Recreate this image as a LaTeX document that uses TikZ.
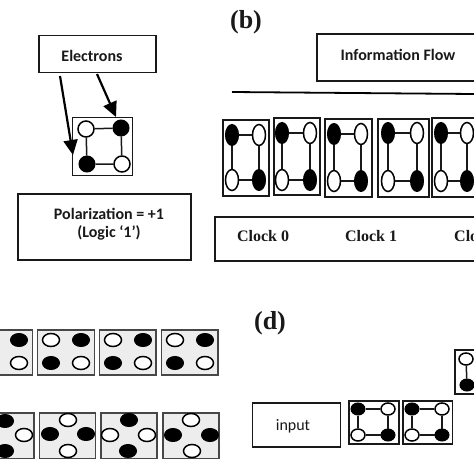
\documentclass[tikz,border=0pt]{standalone}
\usepackage{fontspec}
\setmainfont{Carlito}
\newfontfamily\serifb{Liberation Serif}
\usetikzlibrary{arrows.meta,shapes.geometric}
\definecolor{ink}{gray}{0.1}
\definecolor{cellgray}{gray}{0.93}
\tikzset{
  boxed/.style={draw=ink,line width=1.5pt,fill=white},
  cellbox/.style={draw=ink,line width=1.4pt,fill=white},
  graybox/.style={draw=ink!80,line width=1.4pt,fill=cellgray},
  wire/.style={draw=ink,line width=1.5pt},
  arrowline/.style={draw=black,line width=2.2pt,-{Triangle[length=15pt,width=14pt]}},
  lab/.style={font=\fontsize{16}{18.5}\selectfont\bfseries,text=ink,align=center,inner sep=0pt},
  serlab/.style={font=\serifb\fontsize{16}{18}\selectfont\bfseries,text=ink,inner sep=0pt},
  panel/.style={font=\serifb\fontsize{26}{30}\selectfont\bfseries,text=ink,inner sep=0pt},
  bdot/.style={ellipse,fill=black,draw=black,line width=1pt,inner sep=0pt},
  wdot/.style={ellipse,fill=white,draw=black,line width=1.5pt,inner sep=0pt},
}
\newcommand{\dotat}[6]{% style, name, x, y, w, h
  \node[#1,minimum width=#5pt,minimum height=#6pt] (#2) at (#3,#4) {};}
\begin{document}
\begin{tikzpicture}[x=1pt,y=-1pt]
\useasboundingbox (0,0) rectangle (474,474);
\clip (0,0) rectangle (474,474);
\fill[white] (0,0) rectangle (474,474);
% panel a
\node[boxed,minimum width=117pt,minimum height=37pt] (electrons) at (97.5,54) {};
\node[lab] at (92,56) {Electrons};
\node[cellbox,minimum width=60pt,minimum height=58pt] (acell) at (102.5,146.5) {};
\foreach \s/\n/\x/\y in {wdot/a1/86/129,bdot/a2/121/128,bdot/a3/87/164,wdot/a4/122/164}{\dotat{\s}{\n}{\x}{\y}{16}{16}}
\draw[wire] (a1)--(a2) (a2)--(a4) (a4)--(a3) (a3)--(a1);
\coordinate (e1) at (60,76); \coordinate (e2) at (97,74);
\coordinate (t1) at (73,155); \coordinate (t2) at (116,117);
\draw[arrowline] (e1)--(t1);
\draw[arrowline] (e2)--(t2);
\node[boxed,minimum width=173pt,minimum height=66pt] (pol) at (104.5,227) {};
\node[lab] at (109,224) {Polarization = +1\\(Logic ‘1’)};
% panel b
\node[panel] at (246,22) {(b)};
\node[boxed,minimum width=200pt,minimum height=47pt] (flow) at (417,57.5) {};
\node[lab] at (398,55) {Information Flow};
\coordinate (l1) at (232,92); \coordinate (l2) at (474,94);
\draw[draw=black,line width=1.8pt] (l1)--(l2);
\foreach \i/\xa/\xb/\ya/\yb/\px/\qx/\py/\qy in {
 1/223/269/120/196/232/259/135/180,
 2/274/320/118/195/282/310/133/180,
 3/325/372/119/197/334/361/134/181,
 4/378/429/119/197/388/417/133/181,
 5/432/480/118/197/441/467/133/181}{
  \draw[cellbox] (\xa,\ya) rectangle (\xb,\yb);
  \dotat{bdot}{b\i a}{\px}{\py}{13}{21}
  \dotat{wdot}{b\i b}{\qx}{\py}{13}{21}
  \dotat{wdot}{b\i c}{\px}{\qy}{13}{21}
  \dotat{bdot}{b\i d}{\qx}{\qy}{13}{21}
  \draw[wire] (b\i a)--(b\i b) (b\i b)--(b\i d) (b\i d)--(b\i c) (b\i c)--(b\i a);
}
\node[boxed,minimum width=280pt,minimum height=44pt] (clock) at (355,239) {};
\node[serlab] at (263,236.5) {Clock 0};
\node[serlab] at (371,236.5) {Clock 1};
\node[serlab,anchor=west] at (454,236.5) {Clock 2};
% panel c
\foreach \xa/\xb in {-30/32.5,37.5/94.5,99.5/156,161.5/218}{
  \draw[graybox] (\xa,330) rectangle (\xb,375);}
\foreach \xa/\xb in {-30/34,39.5/95.5,101/157,163/219}{
  \draw[graybox] (\xa,413) rectangle (\xb,458.5);}
\foreach \s/\n/\x/\y in {
 bdot/c1/19/340,wdot/c2/19/363,
 wdot/c3/51/340,bdot/c4/81/340,bdot/c5/51/363,wdot/c6/81/363,
 wdot/c7/113/340,bdot/c8/143/340,bdot/c9/113/363,wdot/c10/143/363,
 wdot/c11/175/340,bdot/c12/205/340,bdot/c13/175/363,wdot/c14/205/363,
 bdot/c15/5/421,bdot/c16/5/451,wdot/c17/24/435,
 wdot/c18/68/420,bdot/c19/50/434,bdot/c20/86/434,wdot/c21/68/451,
 bdot/c22/129/420,wdot/c23/110/435,wdot/c24/147/435,bdot/c25/128/451,
 wdot/c26/191/420,bdot/c27/173/435,bdot/c28/210/435,wdot/c29/192/451}{
  \dotat{\s}{\n}{\x}{\y}{17}{13}}
% panel d
\node[panel] at (270,323) {(d)};
\node[boxed,minimum width=88pt,minimum height=44pt] (input) at (296.5,425) {};
\node[font=\fontsize{16}{18}\selectfont,text=ink,inner sep=0pt] at (293,426) {input};
\foreach \i/\xa/\xb/\px/\qx in {1/349/399/358/388,2/403/452.5/412/442}{
  \draw[cellbox] (\xa,401) rectangle (\xb,444);
  \dotat{bdot}{d\i a}{\px}{409}{14}{12}
  \dotat{wdot}{d\i b}{\qx}{409}{14}{12}
  \dotat{wdot}{d\i c}{\px}{435}{14}{12}
  \dotat{bdot}{d\i d}{\qx}{435}{14}{12}
  \draw[wire] (d\i a)--(d\i b) (d\i b)--(d\i d) (d\i d)--(d\i c) (d\i c)--(d\i a);
}
\draw[cellbox] (455,350) rectangle (480,394);
\dotat{wdot}{d3a}{466}{359}{14}{12}
\dotat{bdot}{d3b}{467}{385}{14}{12}
\draw[wire] (d3a)--(d3b);
\end{tikzpicture}
\end{document}
